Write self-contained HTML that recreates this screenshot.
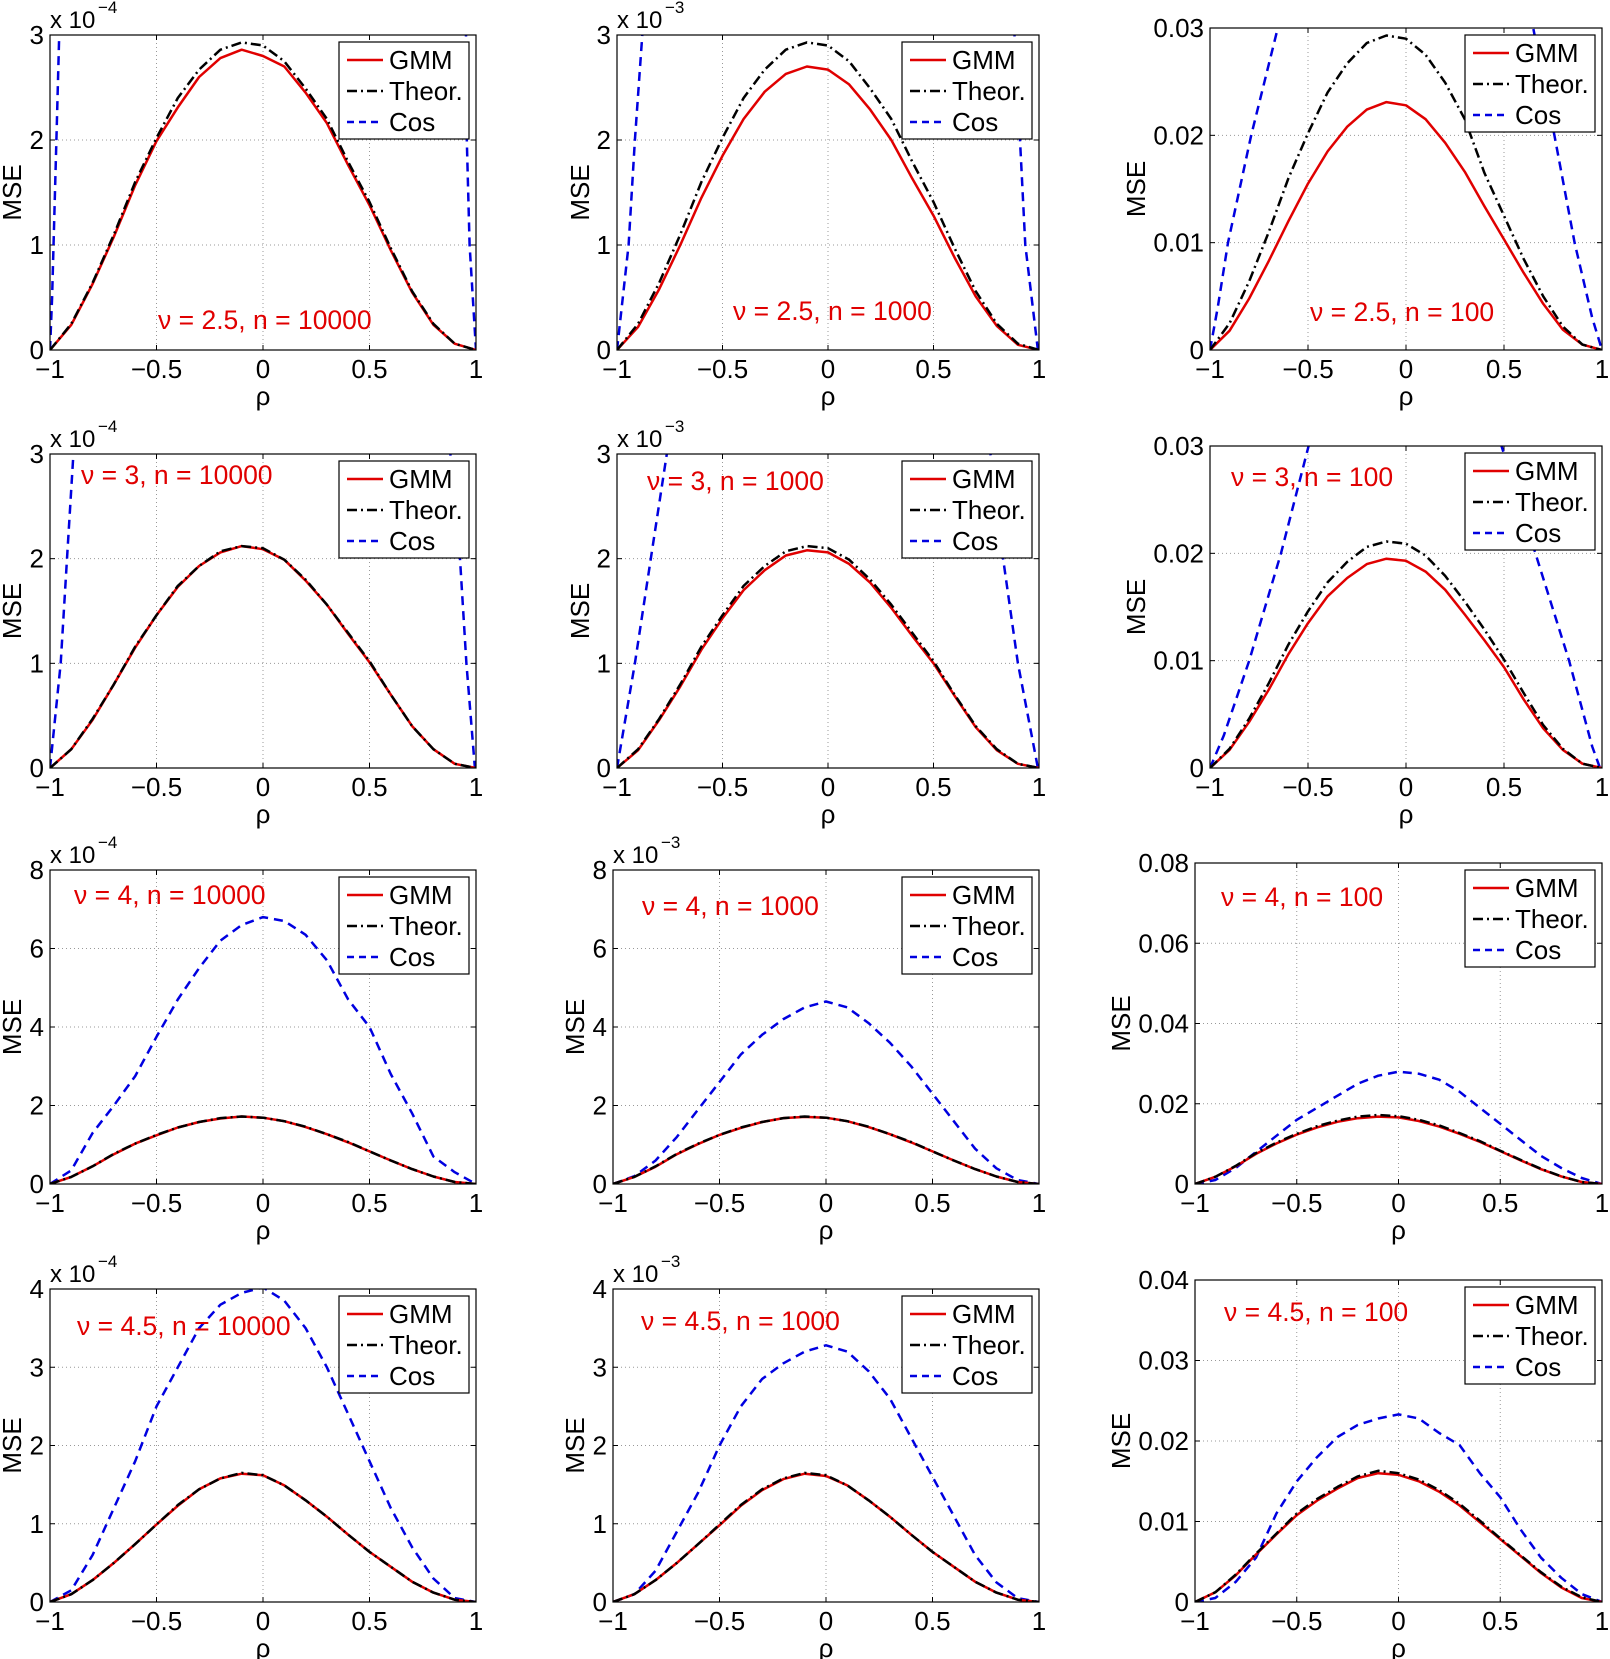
<!DOCTYPE html>
<html><head><meta charset="utf-8"><style>
html,body{margin:0;padding:0;background:#fff}
svg{display:block;font-family:"Liberation Sans",Arial,sans-serif}
</style></head><body>
<svg id="fig" width="1610" height="1659" viewBox="0 0 1610 1659"></svg>
<script>
const rho=[-1,-0.9,-0.8,-0.7,-0.6,-0.5,-0.4,-0.3,-0.2,-0.1,0,0.1,0.2,0.3,0.4,0.5,0.6,0.7,0.8,0.9,1];
const xTicks=[-1,-0.5,0,0.5,1];
const xTickLabels=["\u22121","\u22120.5","0","0.5","1"];
const yTicks3=[0,1,2,3], yTicks3L=["0","1","2","3"];
const yTicks003=[0,0.01,0.02,0.03], yTicks003L=["0","0.01","0.02","0.03"];
const yTicks8=[0,2,4,6,8], yTicks8L=["0","2","4","6","8"];
const yTicks008=[0,0.02,0.04,0.06,0.08], yTicks008L=["0","0.02","0.04","0.06","0.08"];
const yTicks4=[0,1,2,3,4], yTicks4L=["0","1","2","3","4"];
const yTicks004=[0,0.01,0.02,0.03,0.04], yTicks004L=["0","0.01","0.02","0.03","0.04"];

const p1Theor=[0,.25,.64,1.1,1.6,2.02,2.4,2.67,2.86,2.93,2.9,2.75,2.49,2.2,1.79,1.41,.97,.56,.25,.06,0];
const p1Gmm=[0,.24,.63,1.08,1.57,1.99,2.31,2.6,2.78,2.86,2.8,2.7,2.45,2.16,1.76,1.38,.95,.55,.24,.06,0];
const p1CosX=[-1,-0.99,-0.97,-0.957,-0.95], p1CosY=[0,0.5,2,3,3.5];
const p1CosX2=[0.95,0.953,0.957,0.97,1], p1CosY2=[3.5,3,2,1,0];
const p2Theor=[0,.25,.64,1.1,1.6,2.02,2.4,2.67,2.86,2.93,2.9,2.75,2.49,2.2,1.79,1.41,.97,.56,.25,.06,0];
const p2Gmm=[0,.22,.58,1.0,1.45,1.85,2.2,2.46,2.63,2.7,2.67,2.53,2.29,2.0,1.63,1.28,.88,.51,.23,.05,0];
const p2CosX=[-1,-0.945,-0.915,-0.88,-0.86], p2CosY=[0,1,2,3,3.5];
const p2CosX2=[0.87,0.884,0.91,0.935,0.995], p2CosY2=[3.5,3,2,1,0];
const p3Theor=[0,.0025,.0064,.011,.016,.0202,.024,.0267,.0286,.0293,.029,.0275,.0249,.0215,.0165,.0125,.0085,.005,.0022,.0005,0];
const p3Gmm=[0,.0018,.0048,.0083,.012,.0155,.0185,.0208,.0224,.0231,.0228,.0215,.0193,.0166,.0134,.0103,.0072,.0043,.0019,.0005,0];
const p3CosX=[-1,-0.96,-0.908,-0.79,-0.654,-0.6], p3CosY=[0,.004,.01,.02,.03,.034];
const p3CosX2=[0.6,0.649,0.757,0.86,0.95,1], p3CosY2=[.034,.03,.02,.01,.003,0];
const p4Theor=[0,.18,.47,.8,1.16,1.46,1.74,1.93,2.07,2.12,2.1,1.99,1.8,1.56,1.29,1.02,.7,.4,.18,.04,0];
const p4Gmm=[0,.18,.46,.8,1.15,1.46,1.73,1.93,2.06,2.12,2.09,1.99,1.79,1.56,1.28,1.01,.7,.4,.18,.04,0];
const p4CosX=[-1,-0.95,-0.92,-0.89,-0.87], p4CosY=[0,1,2,3,3.5];
const p4CosX2=[0.87,0.88,0.925,0.955,0.995], p4CosY2=[3.5,3,2,1,0];
const p5Theor=[0,.18,.47,.8,1.16,1.46,1.74,1.93,2.07,2.12,2.1,1.99,1.8,1.56,1.29,1.02,.7,.4,.18,.04,0];
const p5Gmm=[0,.17,.46,.78,1.13,1.43,1.7,1.89,2.03,2.08,2.06,1.95,1.77,1.53,1.26,1.0,.69,.39,.17,.04,0];
const p5CosX=[-1,-0.915,-0.84,-0.764,-0.73], p5CosY=[0,1,2,3,3.5];
const p5CosX2=[0.74,0.77,0.83,0.9,0.995], p5CosY2=[3.5,3,2,1,0];
const p6Theor=[0,.0018,.0046,.0079,.0115,.0146,.0173,.0192,.0206,.0211,.0209,.0198,.0179,.0155,.0129,.0101,.007,.004,.0018,.0004,0];
const p6Gmm=[0,.0017,.0043,.0073,.0106,.0135,.016,.0177,.019,.0195,.0193,.0183,.0166,.0143,.0119,.0094,.0064,.0037,.0017,.0004,0];
const p6CosX=[-1,-0.93,-0.8,-0.638,-0.497,-0.45], p6CosY=[0,.003,.01,.02,.03,.033];
const p6CosX2=[0.45,0.487,0.66,0.832,0.95,0.99], p6CosY2=[.033,.03,.02,.01,.002,0];
const p7Theor=[0,.18,.45,.77,1.03,1.25,1.44,1.58,1.68,1.72,1.69,1.6,1.46,1.27,1.07,.83,.6,.38,.19,.05,0];
const p7Gmm=[0,.18,.45,.76,1.03,1.24,1.44,1.58,1.67,1.72,1.69,1.6,1.45,1.27,1.06,.83,.6,.38,.19,.05,0];
const p7Cos=[0,.35,1.3,2.0,2.75,3.75,4.7,5.5,6.2,6.6,6.8,6.7,6.35,5.7,4.7,4.0,2.8,1.8,.7,.3,0];
const p8Theor=[0,.18,.45,.77,1.03,1.25,1.44,1.58,1.68,1.72,1.69,1.6,1.46,1.27,1.07,.83,.6,.38,.19,.05,0];
const p8Gmm=[0,.18,.44,.76,1.02,1.25,1.43,1.58,1.68,1.71,1.69,1.6,1.45,1.27,1.06,.83,.6,.38,.19,.05,0];
const p8Cos=[0,.2,.6,1.2,1.9,2.6,3.3,3.8,4.2,4.5,4.65,4.5,4.1,3.6,3.0,2.3,1.6,.9,.4,.1,0];
const p9Theor=[0,.0018,.0045,.0077,.0103,.0125,.0144,.0158,.0168,.0172,.0169,.016,.0146,.0127,.0107,.0083,.006,.0038,.0019,.0005,0];
const p9Gmm=[0,.0018,.0044,.0075,.0101,.0123,.0141,.0155,.0164,.0168,.0166,.0157,.0143,.0125,.0105,.0082,.0059,.0037,.0019,.0005,0];
const p9Cos=[0,.001,.004,.008,.012,.016,.019,.022,.025,.027,.028,.0275,.026,.023,.019,.015,.011,.007,.004,.0015,0];
const p10Theor=[0,.1,.28,.5,.74,.99,1.24,1.44,1.58,1.65,1.62,1.49,1.3,1.09,.86,.64,.45,.26,.12,.03,0];
const p10Gmm=[0,.1,.28,.5,.74,.99,1.23,1.44,1.58,1.64,1.62,1.49,1.3,1.09,.86,.64,.45,.26,.12,.03,0];
const p10Cos=[0,.15,.6,1.2,1.8,2.5,3.0,3.5,3.8,3.95,4.02,3.85,3.5,3.0,2.4,1.8,1.2,.7,.3,.05,0];
const p11Theor=[0,.1,.28,.5,.74,.99,1.24,1.44,1.58,1.65,1.62,1.49,1.3,1.09,.86,.64,.45,.26,.12,.03,0];
const p11Gmm=[0,.1,.28,.5,.74,.98,1.23,1.43,1.57,1.64,1.61,1.49,1.3,1.09,.86,.64,.45,.26,.12,.03,0];
const p11Cos=[0,.1,.4,.9,1.4,2.0,2.5,2.85,3.05,3.2,3.28,3.2,2.95,2.6,2.1,1.6,1.1,.6,.25,.05,0];
const p12Theor=[0,.0012,.0034,.006,.0085,.011,.0128,.0143,.0156,.0163,.016,.0152,.0139,.0122,.0101,.0079,.0058,.0037,.0019,.0006,0];
const p12Gmm=[0,.0012,.0033,.0059,.0084,.0108,.0126,.0141,.0154,.016,.0158,.015,.0137,.012,.0099,.0078,.0057,.0036,.0018,.0005,0];
const p12Cos=[0,.0005,.0025,.0055,.011,.015,.018,.0205,.022,.0228,.0233,.0228,.021,.0195,.016,.013,.009,.0055,.003,.001,0];

const NS="http://www.w3.org/2000/svg";
const svg=document.getElementById('fig');
function mk(tag,attrs,parent){const e=document.createElementNS(NS,tag);for(const k in attrs)e.setAttribute(k,attrs[k]);(parent||svg).appendChild(e);return e;}

const panels=[
 {L:50,R:476,T:35,B:350,ymax:3,yt:yTicks3,ytl:yTicks3L,exp:"\u22124",th:p1Theor,gm:p1Gmm,cx:[p1CosX,p1CosX2],cy:[p1CosY,p1CosY2],ann:"\u03bd = 2.5, n = 10000",ax:158,ay:329,msex:21},
 {L:617,R:1039,T:35,B:350,ymax:3,yt:yTicks3,ytl:yTicks3L,exp:"\u22123",th:p2Theor,gm:p2Gmm,cx:[p2CosX,p2CosX2],cy:[p2CosY,p2CosY2],ann:"\u03bd = 2.5, n = 1000",ax:733,ay:320,msex:589},
 {L:1210,R:1602,T:28,B:350,ymax:0.03,yt:yTicks003,ytl:yTicks003L,exp:null,th:p3Theor,gm:p3Gmm,cx:[p3CosX,p3CosX2],cy:[p3CosY,p3CosY2],ann:"\u03bd = 2.5, n = 100",ax:1310,ay:321,msex:1145},
 {L:50,R:476,T:454,B:768,ymax:3,yt:yTicks3,ytl:yTicks3L,exp:"\u22124",th:p4Theor,gm:p4Gmm,cx:[p4CosX,p4CosX2],cy:[p4CosY,p4CosY2],ann:"\u03bd = 3, n = 10000",ax:81,ay:484,msex:21},
 {L:617,R:1039,T:454,B:768,ymax:3,yt:yTicks3,ytl:yTicks3L,exp:"\u22123",th:p5Theor,gm:p5Gmm,cx:[p5CosX,p5CosX2],cy:[p5CosY,p5CosY2],ann:"\u03bd = 3, n = 1000",ax:647,ay:490,msex:589},
 {L:1210,R:1602,T:446,B:768,ymax:0.03,yt:yTicks003,ytl:yTicks003L,exp:null,th:p6Theor,gm:p6Gmm,cx:[p6CosX,p6CosX2],cy:[p6CosY,p6CosY2],ann:"\u03bd = 3, n = 100",ax:1231,ay:486,msex:1145},
 {L:50,R:476,T:870,B:1184,ymax:8,yt:yTicks8,ytl:yTicks8L,exp:"\u22124",th:p7Theor,gm:p7Gmm,cos:p7Cos,ann:"\u03bd = 4, n = 10000",ax:74,ay:904,msex:21},
 {L:613,R:1039,T:870,B:1184,ymax:8,yt:yTicks8,ytl:yTicks8L,exp:"\u22123",th:p8Theor,gm:p8Gmm,cos:p8Cos,ann:"\u03bd = 4, n = 1000",ax:642,ay:915,msex:584},
 {L:1195,R:1602,T:863,B:1184,ymax:0.08,yt:yTicks008,ytl:yTicks008L,exp:null,th:p9Theor,gm:p9Gmm,cos:p9Cos,ann:"\u03bd = 4, n = 100",ax:1221,ay:906,msex:1130},
 {L:50,R:476,T:1289,B:1602,ymax:4,yt:yTicks4,ytl:yTicks4L,exp:"\u22124",th:p10Theor,gm:p10Gmm,cos:p10Cos,ann:"\u03bd = 4.5, n = 10000",ax:77,ay:1335,msex:21},
 {L:613,R:1039,T:1289,B:1602,ymax:4,yt:yTicks4,ytl:yTicks4L,exp:"\u22123",th:p11Theor,gm:p11Gmm,cos:p11Cos,ann:"\u03bd = 4.5, n = 1000",ax:641,ay:1330,msex:584},
 {L:1195,R:1602,T:1280,B:1602,ymax:0.04,yt:yTicks004,ytl:yTicks004L,exp:null,th:p12Theor,gm:p12Gmm,cos:p12Cos,ann:"\u03bd = 4.5, n = 100",ax:1224,ay:1321,msex:1130}
];

panels.forEach((p,i)=>{
  const g=mk('g',{});
  
  
  const sx=v=>p.L+(v+1)/2*(p.R-p.L);
  const sy=v=>p.B-v/p.ymax*(p.B-p.T);
  const clipId='clip'+i;
  const cp=mk('clipPath',{id:clipId},g);
  mk('rect',{x:p.L,y:p.T,width:p.R-p.L,height:p.B-p.T},cp);
  xTicks.forEach((t,k)=>{
    if(k>0&&k<xTicks.length-1){const l=mk('line',{x1:sx(t),x2:sx(t),y1:p.T,y2:p.B,stroke:'#999','stroke-width':1,'stroke-dasharray':'1,3'},g);
    }
    mk('line',{x1:sx(t),x2:sx(t),y1:p.B,y2:p.B-5,stroke:'#000','stroke-width':1},g);
    mk('line',{x1:sx(t),x2:sx(t),y1:p.T,y2:p.T+5,stroke:'#000','stroke-width':1},g);
    const tx=mk('text',{x:sx(t),y:p.B+28,'font-size':26,'text-anchor':'middle'},g);
    tx.textContent=xTickLabels[k];
    
  });
  p.yt.forEach((t,k)=>{
    if(k>0&&k<p.yt.length-1){const l=mk('line',{x1:p.L,x2:p.R,y1:sy(t),y2:sy(t),stroke:'#999','stroke-width':1,'stroke-dasharray':'1,3'},g);
    }
    mk('line',{x1:p.L,x2:p.L+5,y1:sy(t),y2:sy(t),stroke:'#000','stroke-width':1},g);
    mk('line',{x1:p.R,x2:p.R-5,y1:sy(t),y2:sy(t),stroke:'#000','stroke-width':1},g);
    const tx=mk('text',{x:p.L-6,y:sy(t)+9,'font-size':26,'text-anchor':'end'},g);
    tx.textContent=p.ytl[k];
    
  });
  const xl=mk('text',{x:(p.L+p.R)/2,y:p.B+55,'font-size':26,'text-anchor':'middle'},g);
  xl.textContent='\u03c1';
  
  const cyM=(p.T+p.B)/2;
  const yl=mk('text',{x:0,y:0,'font-size':26,'text-anchor':'middle',transform:`translate(${p.msex} ${cyM}) rotate(-90)`},g);
  yl.textContent='MSE';
  
  if(p.exp){
    const ex=mk('text',{x:p.L,y:p.T-7,'font-size':24},g);
    ex.textContent='x 10';
    
    const sp=mk('text',{x:p.L+48,y:p.T-22,'font-size':17},g);
    sp.textContent=p.exp;
    
  }
  const dg=mk('g',{'clip-path':`url(#${clipId})`,fill:'none','stroke-width':2.5,'stroke-linejoin':'round'},g);
  const pathOf=(xs,ys)=>xs.map((x,k)=>(k?'L':'M')+sx(x).toFixed(1)+','+sy(ys[k]).toFixed(1)).join('');
  if(p.cos){
    const c=mk('path',{d:pathOf(rho,p.cos),stroke:'#0000e0','stroke-dasharray':'9,6'},dg);
    
  } else {
    p.cx.forEach((xs,k)=>{
      const c=mk('path',{d:pathOf(xs,p.cy[k]),stroke:'#0000e0','stroke-dasharray':'9,6'},dg);
      
    });
  }
  const gm=mk('path',{d:pathOf(rho,p.gm),stroke:'#e00000'},dg);
  
  const th=mk('path',{d:pathOf(rho,p.th),stroke:'#000','stroke-dasharray':'10,4,2,4'},dg);
  
  mk('rect',{x:p.L,y:p.T,width:p.R-p.L,height:p.B-p.T,fill:'none',stroke:'#000','stroke-width':1.2},g);
  const an=mk('text',{x:p.ax,y:p.ay,'font-size':26.5,fill:'#e00000'},g);
  an.textContent=p.ann;
  
  const lx=p.R-7-130, ly=p.T+7;
  const lg=mk('g',{},g);
  
  mk('rect',{x:lx,y:ly,width:130,height:97,fill:'#fff',stroke:'#000','stroke-width':1.2},lg);
  const ents=[['GMM','#e00000','none'],['Theor.','#000','10,4,2,4'],['Cos','#0000e0','7,5']];
  ents.forEach((e,k)=>{
    const yy=ly+18+k*31;
    const ln=mk('line',{x1:lx+8,x2:lx+44,y1:yy,y2:yy,stroke:e[1],'stroke-width':2.5,'stroke-dasharray':e[2]},lg);
    
    const t=mk('text',{x:lx+50,y:yy+9,'font-size':26},lg);
    t.textContent=e[0];
    
  });
});
</script>
</body></html>
